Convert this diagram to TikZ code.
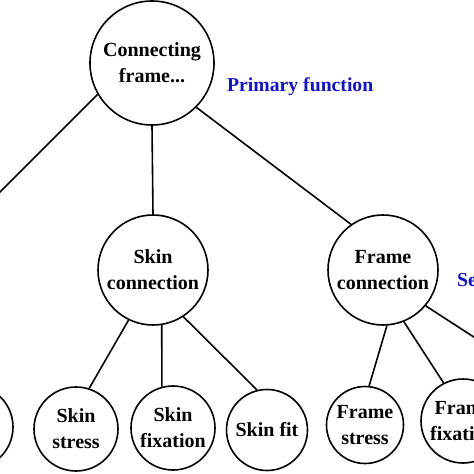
\documentclass[tikz,border=0pt]{standalone}
\usepackage{fontspec}
\setmainfont{Liberation Serif}
\definecolor{fnblue}{RGB}{20,20,190}
\tikzset{
  every picture/.style={x=1pt,y=-1pt},
  conn/.style={line width=1.6pt},
  bigc/.style={circle,draw,line width=1.6pt,inner sep=0pt,minimum size=#1pt,align=center,
    font=\fontsize{20}{26}\selectfont\bfseries},
  fnlabel/.style={anchor=west,inner sep=0pt,text=fnblue,font=\fontsize{19.7}{24}\selectfont\bfseries}
}
\begin{document}
\begin{tikzpicture}
\useasboundingbox (0,0) rectangle (474,474);
\clip (0,0) rectangle (474,474);
\fill[white] (0,0) rectangle (474,474);
% nodes
\node[bigc=124] (top) at (152,63) {Connecting\\frame...};
\node[bigc=110] (skin) at (153,270) {Skin\\connection};
\node[bigc=110] (frame) at (383,270) {Frame\\connection};
\node[bigc=84] (sstress) at (76,429) {Skin\\stress};
\node[bigc=84] (sfix) at (173,428) {Skin\\fixation};
\node[bigc=81] (sfit) at (267,430) {Skin fit};
\node[bigc=77] (fstress) at (365,425) {Frame\\stress};
\node[bigc=84] (ffix) at (463,421) {Frame\\fixation};
\node[bigc=84] (lpart) at (-29,427) {};
\coordinate (leftoff) at (-40,232);
\coordinate (rightoff) at (520,367);
% labels
\node[fnlabel] (prim) at (227,87) {Primary function};
\node[fnlabel] (sec) at (457,282) {Secondary function};
% connectors
\draw[conn] (top.210.6) -- (leftoff);
\draw[conn] (top.south) -- (skin.north);
\draw[conn] (top.315) -- (frame.125.7);
\draw[conn] (skin.244.8) -- (sstress.72.8);
\draw[conn] (skin.279) -- (sfix.105);
\draw[conn] (skin.303.7) -- (sfit.104);
\draw[conn] (frame.274) -- (fstress.84);
\draw[conn] (frame.292) -- (ffix.117);
\draw[conn] (frame.320.7) -- (rightoff);
\end{tikzpicture}
\end{document}
